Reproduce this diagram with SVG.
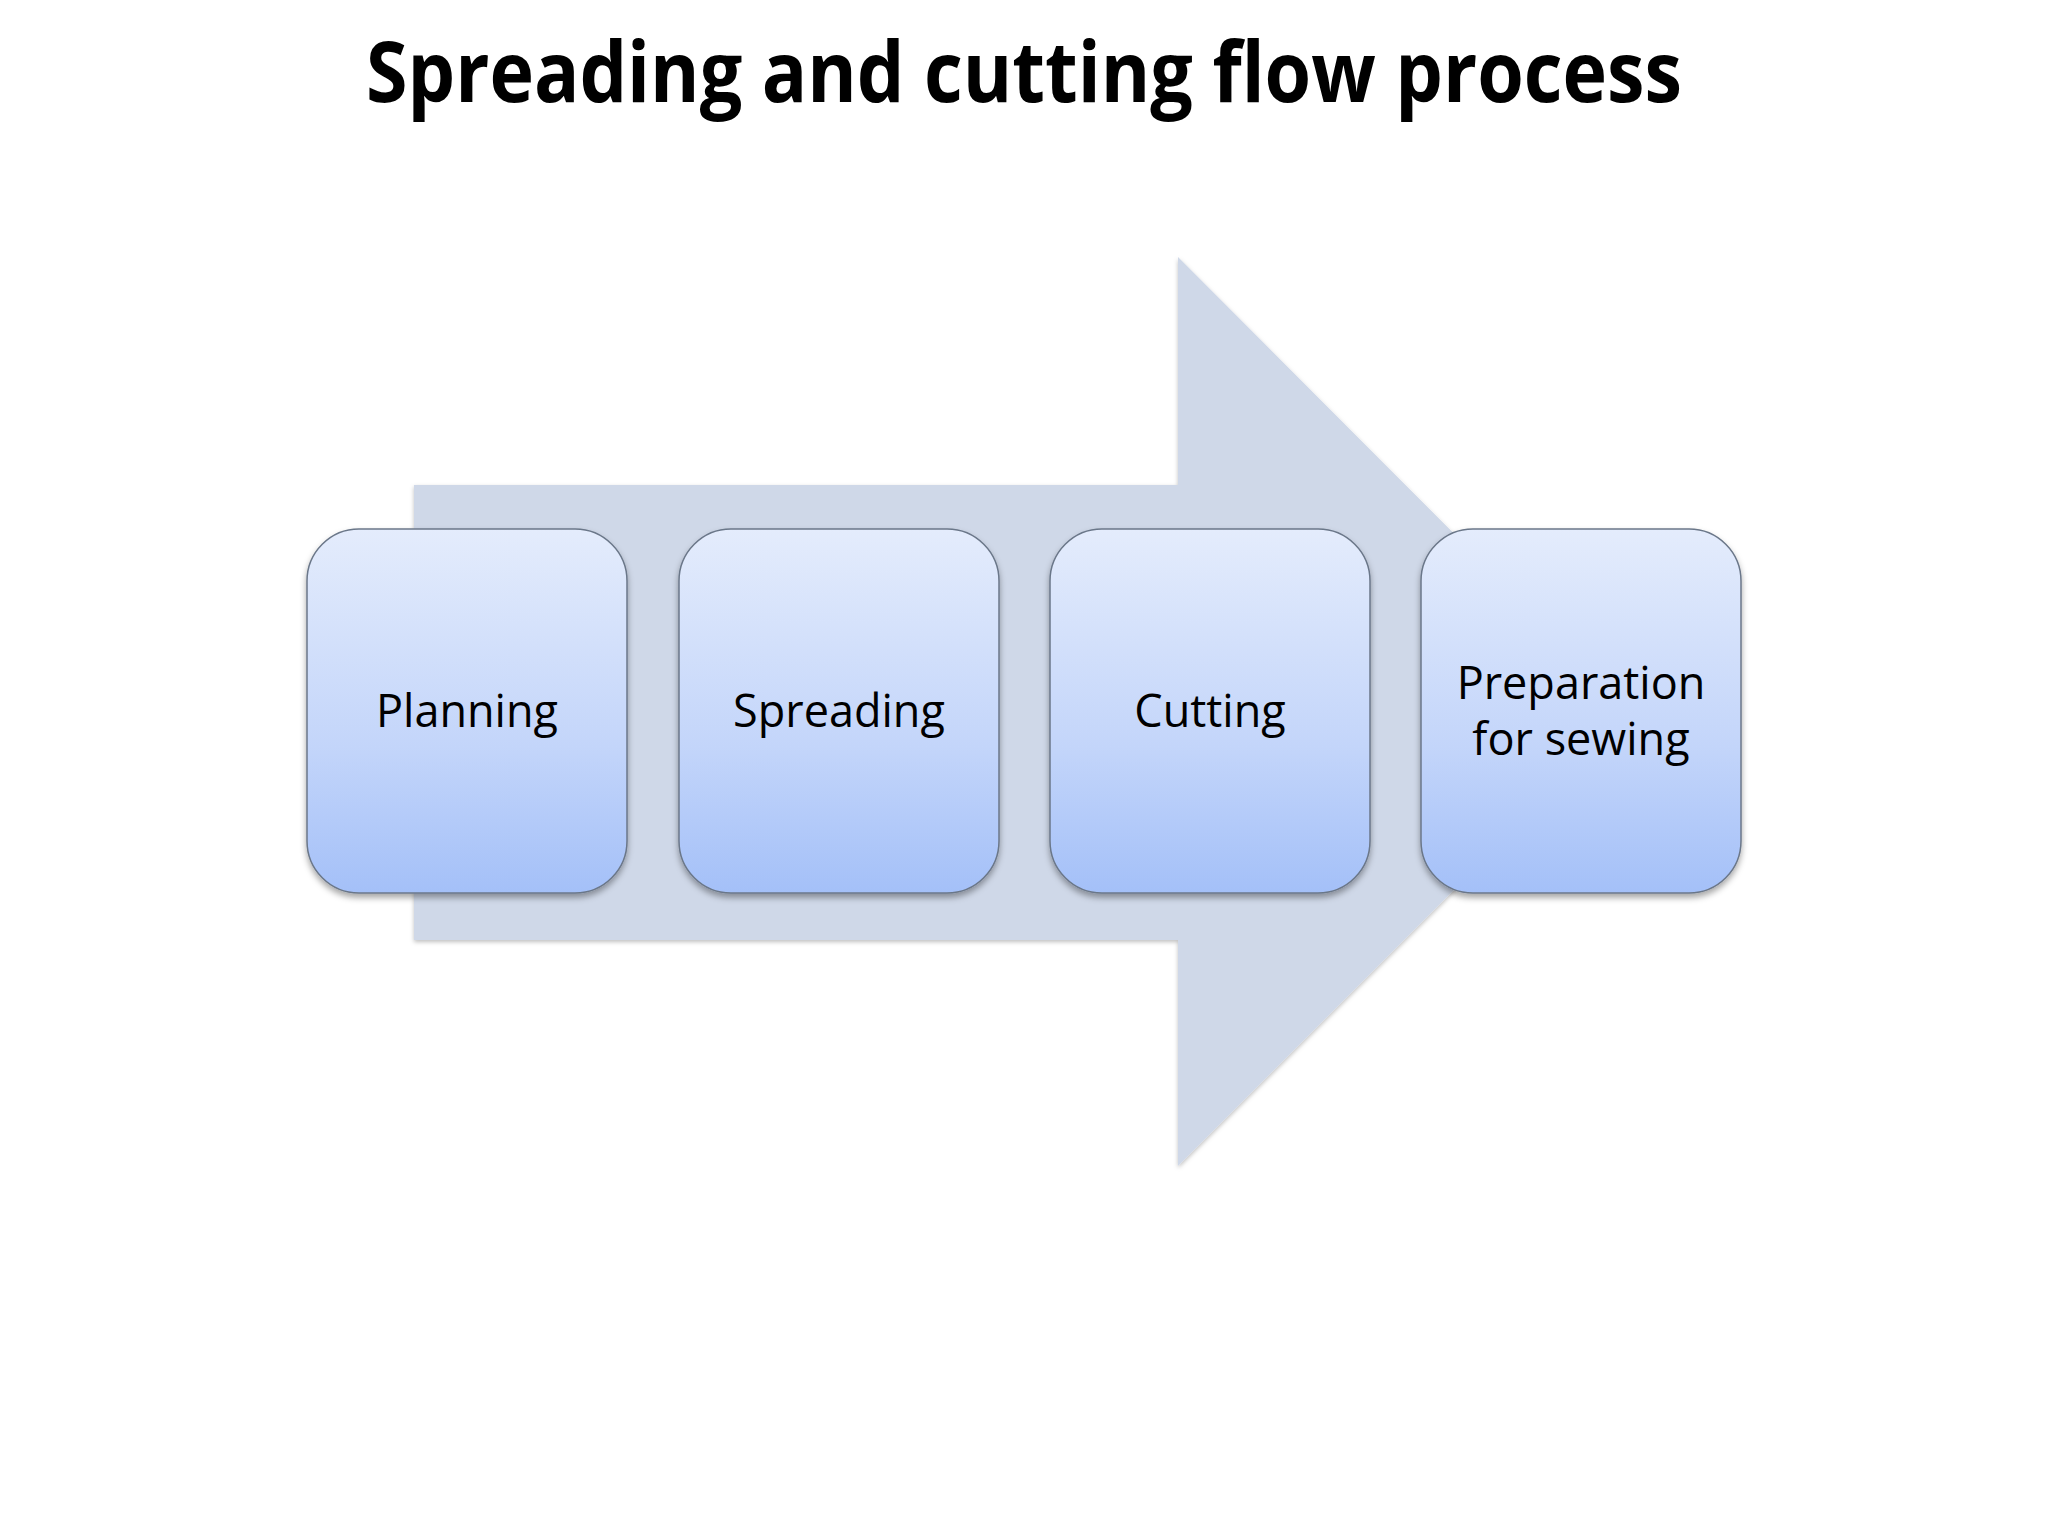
<svg xmlns="http://www.w3.org/2000/svg" width="2048" height="1536" viewBox="0 0 2048 1536">
<defs>
<linearGradient id="boxg" x1="0" y1="0" x2="0" y2="1">
<stop offset="0" stop-color="#E4ECFC"/>
<stop offset="0.6" stop-color="#C3D5FA"/>
<stop offset="1" stop-color="#A4C0F8"/>
</linearGradient>
<filter id="sh" x="-10%" y="-10%" width="120%" height="125%">
<feDropShadow dx="0" dy="4" stdDeviation="3" flood-color="#000" flood-opacity="0.35"/>
</filter>
<filter id="ash" x="-5%" y="-5%" width="110%" height="110%">
<feDropShadow dx="0" dy="2" stdDeviation="2" flood-color="#000" flood-opacity="0.25"/>
</filter>
</defs>
<style>
.box{fill:url(#boxg);stroke:#6B7789;stroke-width:1.5;filter:url(#sh)}
.lbl{font-family:"Open Sans","Noto Sans",sans-serif;font-size:45px;fill:#000;text-anchor:middle}
.title{font-family:"Open Sans","Noto Sans",sans-serif;font-weight:bold;font-size:84px;fill:#000;text-anchor:middle}
</style>
<rect width="2048" height="1536" fill="#FFFFFF"/>
<text class="title" x="1024" y="102" textLength="1316" lengthAdjust="spacingAndGlyphs">Spreading and cutting flow process</text>
<g id="connectors">
<polygon id="arrow" points="414,485 1178,485 1178,257 1632,712 1178,1166 1178,940 414,940" fill="#CFD8E8" filter="url(#ash)"/>
</g>
<g id="planning">
<rect class="box" x="307" y="529" width="320" height="364" rx="52" ry="52"/>
<text class="lbl" x="467" y="727">Planning</text>
</g>
<g id="spreading">
<rect class="box" x="679" y="529" width="320" height="364" rx="52" ry="52"/>
<text class="lbl" x="839" y="727">Spreading</text>
</g>
<g id="cutting">
<rect class="box" x="1050" y="529" width="320" height="364" rx="52" ry="52"/>
<text class="lbl" x="1210" y="727">Cutting</text>
</g>
<g id="preparation">
<rect class="box" x="1421" y="529" width="320" height="364" rx="52" ry="52"/>
<text class="lbl" x="1581" y="699">Preparation</text>
<text class="lbl" x="1581" y="755">for sewing</text>
</g>
</svg>
